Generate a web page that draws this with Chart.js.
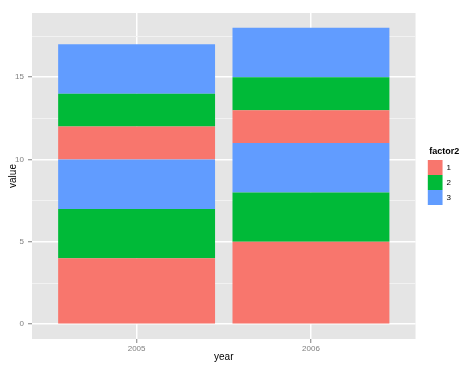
<!DOCTYPE html>
<html>
<head>
<meta charset="utf-8">
<script src="https://cdn.jsdelivr.net/npm/chart.js@4.4.1/dist/chart.umd.min.js"></script>
<style>
  html, body { margin: 0; padding: 0; background: #ffffff; }
  #caja { width: 474px; height: 369px; }
</style>
</head>
<body>
<div id="caja"><canvas id="grafica" width="474" height="369"></canvas></div>
<script>
// Datos del gráfico
const anios = ["2005", "2006"];
const posiciones = [1, 2];
const factores = ["1", "2", "3"];
// segmentos apilados de abajo hacia arriba
const segFactor = ["1", "2", "3", "1", "2", "3"];
const seg1 = [4, 5];
const seg2 = [3, 3];
const seg3 = [3, 3];
const seg4 = [2, 2];
const seg5 = [2, 2];
const seg6 = [3, 3];
const ticksY = [0, 2.5, 5, 7.5, 10, 12.5, 15, 17.5];

const colores = { "1": "#F8766D", "2": "#00BA38", "3": "#619CFF" };
const gris = "#7F7F7F";

const segmentos = [seg1, seg2, seg3, seg4, seg5, seg6];
const datasets = segmentos.map((valores, i) => ({
  label: segFactor[i],
  data: valores.map((v, j) => ({ x: posiciones[j], y: v })),
  backgroundColor: colores[segFactor[i]],
  borderWidth: 0,
}));

// Fondo gris del panel
const fondoPanel = {
  id: "fondoPanel",
  beforeDraw(chart) {
    const { ctx, chartArea } = chart;
    ctx.save();
    ctx.fillStyle = "#E5E5E5";
    ctx.fillRect(chartArea.left, chartArea.top, chartArea.right - chartArea.left, chartArea.bottom - chartArea.top);
    ctx.restore();
  },
};

const esMayor = (v) => v % 5 === 0;

new Chart(document.getElementById("grafica"), {
  type: "bar",
  data: { datasets },
  plugins: [fondoPanel],
  options: {
    responsive: false,
    animation: false,
    layout: { padding: { top: 13, right: 13, bottom: 0, left: 0 } },
    datasets: { bar: { categoryPercentage: 0.9, barPercentage: 1 } },
    plugins: {
      tooltip: { enabled: false },
      legend: {
        position: "right",
        fullSize: false,
        title: {
          display: true,
          text: "factor2",
          color: "#000000",
          font: { family: "Liberation Sans", size: 9, weight: "bold" },
          padding: { top: 0, bottom: 2 },
        },
        labels: {
          boxWidth: 15,
          boxHeight: 15,
          padding: 0,
          color: "#000000",
          font: { family: "Liberation Sans", size: 8 },
          generateLabels: () =>
            factores.map((f) => ({
              text: f,
              fillStyle: colores[f],
              strokeStyle: "rgba(0,0,0,0)",
              lineWidth: 0,
              hidden: false,
            })),
        },
      },
    },
    scales: {
      x: {
        type: "linear",
        stacked: true,
        min: 0.4,
        max: 2.6,
        offset: false,
        afterBuildTicks: (s) => { s.ticks = posiciones.map((v) => ({ value: v })); },
        afterFit: (s) => { s.height = 30; },
        ticks: {
          color: gris,
          font: { family: "Liberation Sans", size: 8 },
          padding: 1,
          maxRotation: 0,
          callback: (v) => anios[posiciones.indexOf(v)],
        },
        grid: { offset: false, color: "#FFFFFF", lineWidth: 1.5, tickLength: 4, tickColor: gris, tickWidth: 1 },
        border: { display: false },
        title: {
          display: true,
          text: "year",
          color: "#000000",
          font: { family: "Liberation Sans", size: 10 },
          padding: { top: 0, bottom: 6 },
        },
      },
      y: {
        stacked: true,
        min: -0.9,
        max: 18.9,
        afterBuildTicks: (s) => { s.ticks = ticksY.map((v) => ({ value: v })); },
        afterFit: (s) => { s.width = 32; },
        ticks: {
          color: gris,
          font: { family: "Liberation Sans", size: 8 },
          padding: 4,
          callback: (v) => (esMayor(v) ? String(v) : ""),
        },
        grid: {
          color: (c) => (esMayor(c.tick.value) ? "#FFFFFF" : "#F2F2F2"),
          lineWidth: (c) => (esMayor(c.tick.value) ? 1.5 : 1),
          tickLength: 4,
          tickWidth: 1,
          tickColor: (c) => (esMayor(c.tick.value) ? gris : "rgba(0,0,0,0)"),
        },
        border: { display: false },
        title: {
          display: true,
          text: "value",
          color: "#000000",
          font: { family: "Liberation Sans", size: 10 },
          padding: { top: 7, bottom: 0 },
        },
      },
      // espacio entre el panel y la leyenda
      espacio: {
        type: "linear",
        position: "right",
        ticks: { display: false },
        grid: { display: false },
        border: { display: false },
        afterFit: (s) => { s.width = 12; },
      },
    },
  },
});
</script>
</body>
</html>
